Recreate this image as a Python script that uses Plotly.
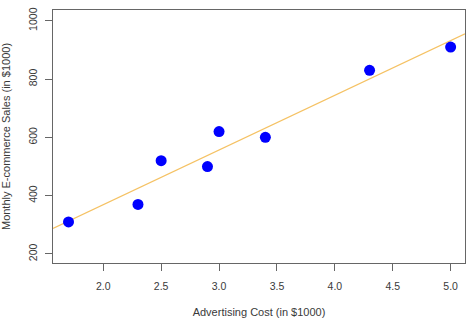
import numpy as np
import plotly.graph_objects as go

ad_cost = [1.7, 2.3, 2.5, 2.9, 3.0, 3.4, 4.3, 5.0]
sales = [310, 370, 520, 500, 620, 600, 830, 910]
x_ticks = [2.0, 2.5, 3.0, 3.5, 4.0, 4.5, 5.0]
y_ticks = [200, 400, 600, 800, 1000]

x_range = [1.566, 5.124]
y_range = [169, 1037]

slope, intercept = np.polyfit(ad_cost, sales, 1)
line_x = np.array(x_range)
line_y = intercept + slope * line_x

fig = go.Figure()
fig.add_trace(go.Scatter(x=line_x, y=line_y, mode="lines",
                         line=dict(color="#F5C264", width=1.2), hoverinfo="skip"))
fig.add_trace(go.Scatter(x=ad_cost, y=sales, mode="markers",
                         marker=dict(color="#0000FF", size=11, line=dict(width=0))))

font = dict(family="Liberation Sans, Arial, sans-serif", size=11, color="#3a3a3a")
fig.update_layout(
    width=474, height=322,
    margin=dict(l=53, r=9, t=10, b=59),
    paper_bgcolor="white", plot_bgcolor="white",
    showlegend=False, font=font,
)
fig.update_xaxes(range=x_range, tickvals=x_ticks, ticktext=[f"{v:.1f}" for v in x_ticks],
                 showgrid=False, zeroline=False, showline=True, mirror=True, automargin=False,
                 linecolor="#666666", linewidth=1.3, ticks="outside", ticklen=7,
                 tickcolor="#666666", ticklabelstandoff=6,
                 title=dict(text="Advertising Cost (in $1000)", standoff=17, font=dict(size=11)),
                 tickfont=dict(size=10.5, color="#3a3a3a"))
fig.update_yaxes(range=y_range, tickvals=y_ticks, tickangle=-90,
                 showgrid=False, zeroline=False, showline=True, mirror=True, automargin=False,
                 linecolor="#666666", linewidth=1.3, ticks="outside", ticklen=7,
                 tickcolor="#666666", ticklabelstandoff=4,
                 title=dict(text="Monthly E-commerce Sales (in $1000)", standoff=13, font=dict(size=11)),
                 tickfont=dict(size=10.5, color="#3a3a3a"))

fig.write_html("out.html")
